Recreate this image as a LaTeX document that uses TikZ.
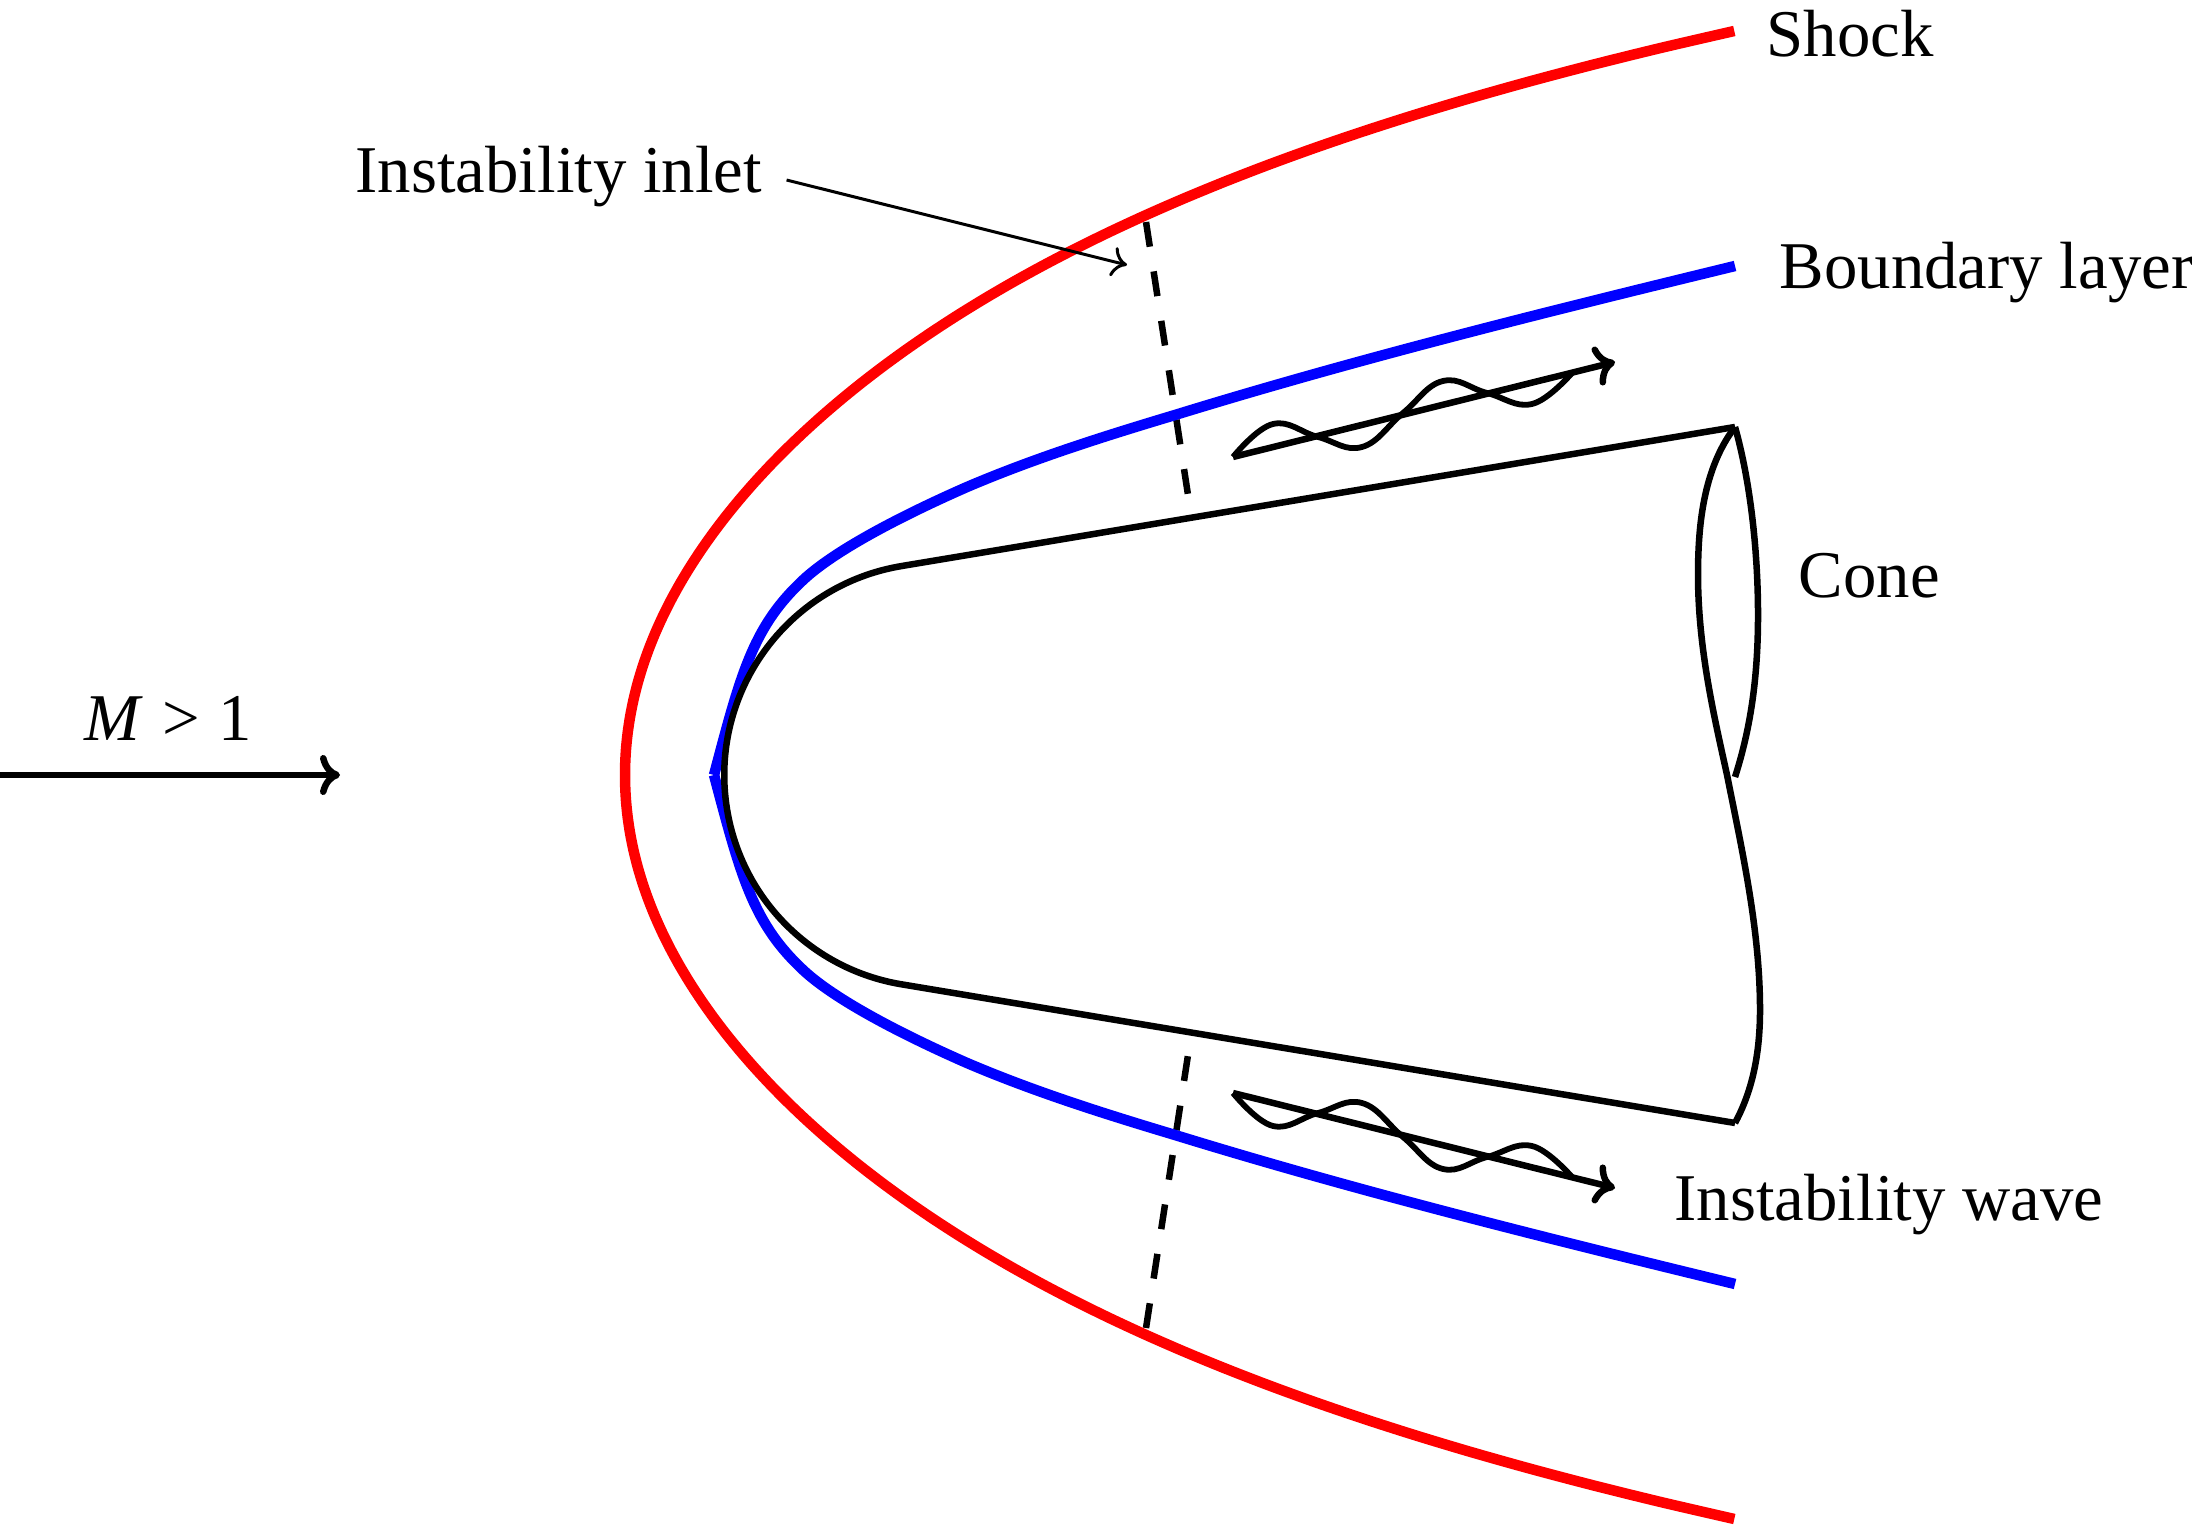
\documentclass[tikz,border=0pt]{standalone}
\usepackage{fontspec}
\setmainfont{Liberation Serif}
\usetikzlibrary{arrows.meta}

\tikzstyle{shockline}=[draw=red, line width=0.105cm]
\tikzstyle{layerline}=[draw=blue, line width=0.105cm]
\tikzstyle{conebody}=[draw=black, line width=0.065cm]
\tikzstyle{inletline}=[draw=black, line width=0.065cm, dash pattern=on 0.25cm off 0.25cm]
\tikzstyle{wavearrow}=[draw=black, line width=0.065cm, -{Computer Modern Rightarrow[length=2mm,width=4mm]}]
\tikzstyle{waveline}=[draw=black, line width=0.058cm]
\tikzstyle{leader}=[draw=black, line width=0.03cm, -{Computer Modern Rightarrow[length=1.5mm,width=3mm]}]
\tikzstyle{lbl}=[anchor=base west, inner sep=0pt, font=\fontsize{19}{23}\selectfont]

\begin{document}
\begin{tikzpicture}
\useasboundingbox (0,-7.5) rectangle (21.92,7.75);

\foreach \s in {1,-1} {
\begin{scope}[yscale=\s]
\coordinate (gapa) at (11.46,5.53);
\coordinate (gapb) at (11.88,2.80);
\draw[inletline] (gapa) -- (gapb);
\draw[layerline] (7.14,0) .. controls (7.40,0.98) and (7.52,1.46) .. (8.00,1.92)
  .. controls (8.33,2.25) and (9.10,2.63) .. (9.67,2.88)
  .. controls (10.35,3.17) and (11.05,3.39) .. (11.75,3.60)
  .. controls (13.60,4.17) and (15.50,4.64) .. (17.35,5.09);
\coordinate (wavea) at (12.33,3.18);
\coordinate (waveb) at (16.15,4.13);
\draw[wavearrow] (wavea) -- (waveb);
\draw[waveline] plot[smooth,tension=0.7] coordinates {(12.33,3.18) (12.73,3.51) (13.18,3.38) (13.62,3.28) (14.03,3.62) (14.43,3.94) (14.87,3.82) (15.32,3.71) (15.72,4.02)};
\end{scope}
}
\draw[shockline] plot[domain=-7.44:7.44,samples=90,smooth] ({6.25+0.15*\x*\x+0.012*(\x*\x/9)^3},\x);

\draw[conebody] (17.35,3.48) -- (9.02,2.09) arc (99.3:260.7:2.12) -- (17.35,-3.48);
\draw[conebody] (17.35,3.48) .. controls (17.02,3.05) and (16.98,2.45) .. (16.98,2.00)
  .. controls (16.98,1.25) and (17.15,0.55) .. (17.27,0)
  .. controls (17.42,-0.75) and (17.60,-1.55) .. (17.60,-2.35)
  .. controls (17.60,-2.85) and (17.50,-3.20) .. (17.35,-3.48);
\draw[conebody] (17.35,3.48) .. controls (17.50,2.95) and (17.58,2.25) .. (17.58,1.60)
  .. controls (17.58,0.95) and (17.50,0.45) .. (17.35,-0.02);

\node[lbl] (shock) at (17.66,7.18) {Shock};
\node[lbl] (layer) at (17.79,4.86) {Boundary layer};
\node[lbl] (cone) at (17.98,1.77) {Cone};
\node[lbl] (wave) at (16.74,-4.45) {Instability wave};
\node[lbl] (mach) at (0.84,0.34) {\textit{M}\hspace{0.03em} > \hspace{0.03em}1};
\node[lbl, inner xsep=0.24cm] (inlet) at (3.31,5.82) {Instability inlet};

\coordinate (inletend) at (11.27,5.10);
\draw[leader] ([yshift=-0.03cm]inlet.east) -- (inletend);

\coordinate (flowa) at (0,0);
\coordinate (flowb) at (3.40,0);
\draw[wavearrow] (flowa) -- (flowb);
\end{tikzpicture}
\end{document}
